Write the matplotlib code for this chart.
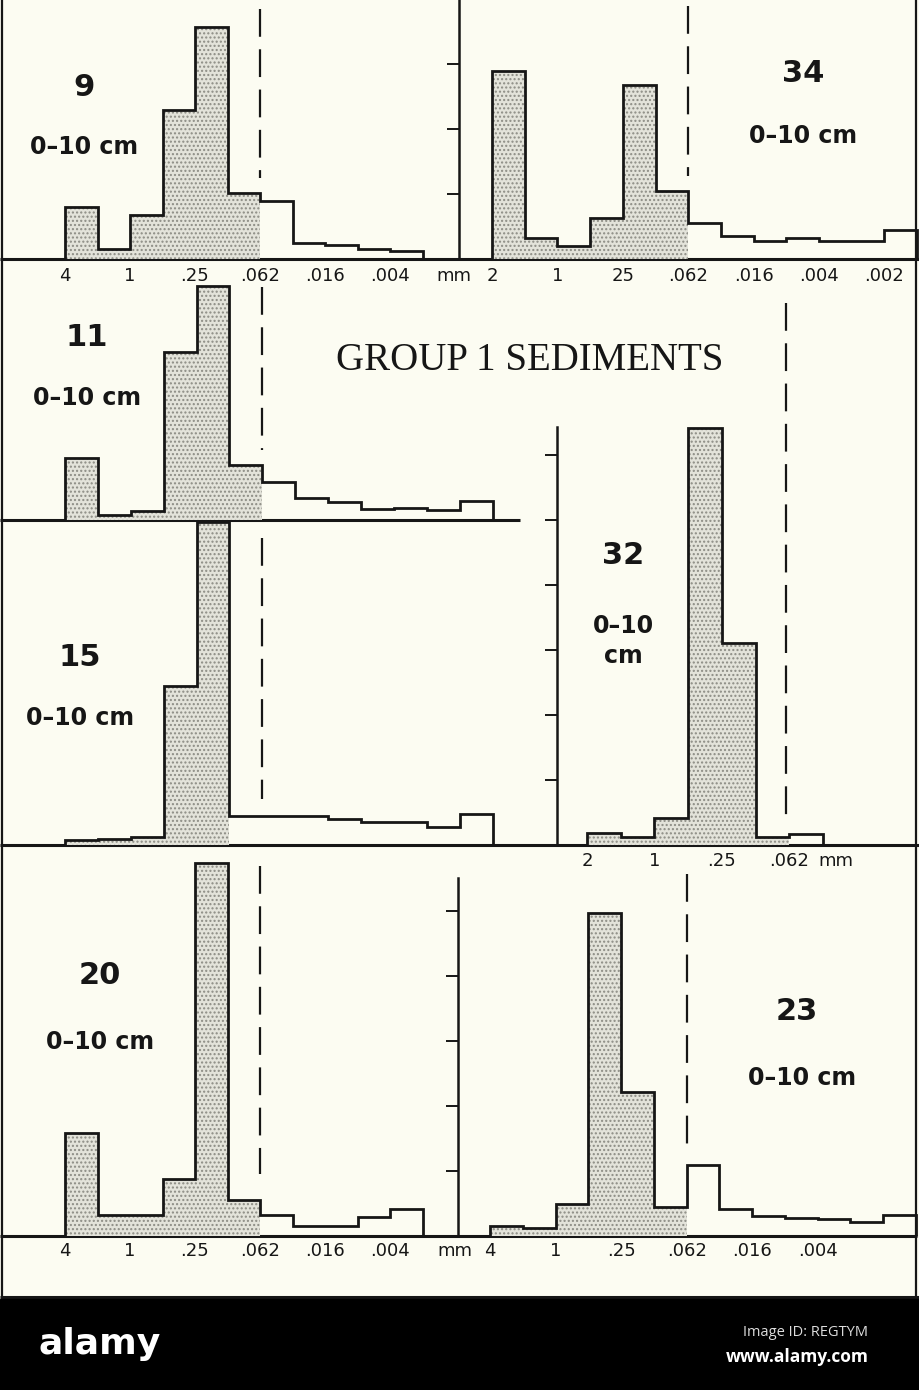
import matplotlib
matplotlib.use('Agg')
import matplotlib.pyplot as plt
import numpy as np
from matplotlib.patches import Rectangle

plt.rcParams['lines.scale_dashes'] = False

# ---------------- data (percent per size class) ----------------
p9_vals = [8.0, 1.5, 6.8, 23.0, 35.7, 10.1, 9.0, 2.4, 2.1, 1.5, 1.2]
p34_vals = [29.0, 3.3, 2.0, 6.3, 26.8, 10.4, 5.5, 3.5, 2.7, 3.2, 2.7, 2.7, 4.4]
p11_vals = [9.5, 0.8, 1.4, 25.8, 36.0, 8.4, 5.9, 3.4, 2.7, 1.7, 1.9, 1.6, 2.9]
p15_vals = [0.7, 0.9, 1.3, 24.5, 49.7, 4.4, 4.4, 4.4, 4.0, 3.6, 3.6, 2.7, 4.8]
p32_vals = [1.9, 1.3, 4.2, 64.2, 31.1, 1.3, 1.7]
p20_vals = [15.9, 3.3, 3.3, 8.8, 57.4, 5.5, 3.2, 1.6, 1.6, 2.9, 4.1]
p23_vals = [1.5, 1.2, 5.0, 49.7, 22.1, 4.5, 11.0, 4.1, 3.1, 2.7, 2.6, 2.2, 3.3]

labels_9 = ['4', '1', '.25', '.062', '.016', '.004', 'mm']
labels_34 = ['2', '1', '25', '.062', '.016', '.004', '.002']
labels_32 = ['2', '1', '.25', '.062', 'mm']
labels_20 = ['4', '1', '.25', '.062', '.016', '.004', 'mm']
labels_23 = ['4', '1', '.25', '.062', '.016', '.004']

stations = ['9', '34', '11', '15', '32', '20', '23']
depth = '0\u201310 cm'
title = 'GROUP 1 SEDIMENTS'

# ---------------- style ----------------
W, H = 919, 1390
BG = '#FCFCF2'
INK = '#161616'
SHADE = '#E3E3DA'
DOTS = '#8C8C84'
SANS = 'DejaVu Sans'
PX10 = 6.5  # pixels per 1 %

fig = plt.figure(figsize=(W / 100, H / 100), dpi=100)
fig.patch.set_facecolor(BG)

bg = fig.add_axes([0, 0, 1, 1])
bg.set_xlim(0, W)
bg.set_ylim(H, 0)
bg.axis('off')
bg.set_zorder(-5)

# frame lines
for (xa, xb, y) in [(0, W, 259), (0, 520, 520), (0, W, 845), (0, 917, 1236), (0, W, 1297)]:
    bg.plot([xa, xb], [y, y], color=INK, lw=2.2, solid_capstyle='butt')
bg.plot([2, 2], [0, 1297], color=INK, lw=1.6)
bg.plot([916, 916], [0, 1297], color=INK, lw=1.6)
bg.add_patch(Rectangle((0, 1299), W, H - 1299, color='black', zorder=3))
bg.text(100, 1344, 'alamy', color='white', fontsize=26, fontweight='bold',
        family='Liberation Sans Narrow', ha='center', va='center', zorder=4)
bg.text(868, 1333, 'Image ID: REGTYM', color='#DDDDDD', fontsize=10.5,
        family='Open Sans', ha='right', va='center', zorder=4)
bg.text(869, 1357, 'www.alamy.com', color='white', fontsize=12.5, fontweight='bold',
        family='Open Sans', ha='right', va='center', zorder=4)


def panel(vals, edge0, binw, box, nshade, dash, tick_pos, tick_lab, spine=False,
          pad=6.0):
    x0, x1, ytop, ybase = box
    ax = fig.add_axes([x0 / W, 1 - ybase / H, (x1 - x0) / W, (ybase - ytop) / H])
    ax.set_xlim((x0 - edge0) / binw, (x1 - edge0) / binw)
    ax.set_ylim(0, (ybase - ytop) / PX10)
    ax.patch.set_visible(False)
    n = len(vals)
    edges = np.arange(n + 1)
    ax.bar(edges[:nshade], vals[:nshade], width=1.0, align='edge', color=SHADE,
           hatch='....', edgecolor=DOTS, linewidth=0, zorder=1)
    ax.stairs(vals, edges, baseline=0, color=INK, lw=2.0, zorder=3, clip_on=False)
    dx, dy0, dy1 = dash
    ax.plot([dx, dx], [dy0, dy1], color=INK, lw=1.6, dashes=(20, 9),
            clip_on=False, zorder=2)
    for s in ['top', 'right', 'bottom']:
        ax.spines[s].set_visible(False)
    if spine:
        ax.spines['left'].set_linewidth(1.8)
        ax.spines['left'].set_color(INK)
        ax.set_yticks(np.arange(10, ax.get_ylim()[1], 10))
        ax.tick_params(axis='y', direction='out', length=9, width=1.4,
                       color=INK, labelleft=False)
    else:
        ax.spines['left'].set_visible(False)
        ax.set_yticks([])
    if tick_pos:
        ax.set_xticks(tick_pos)
        ax.set_xticklabels(tick_lab, fontsize=13, family=SANS, color=INK)
        ax.tick_params(axis='x', length=0, pad=pad)
    else:
        ax.set_xticks([])
    return ax


# top row
panel(p9_vals, 65, 32.5, (2, 459, 0, 259), 6, (6, 38.5, 12.5),
      [0, 2, 4, 6, 8, 10, 11.97], labels_9)
panel(p34_vals, 492, 32.7, (459, 916, 0, 259), 6, (6, 38.9, 12.8),
      [0, 2, 4, 6, 8, 10, 12], labels_34, spine=True)
# middle
panel(p11_vals, 65, 32.9, (2, 520, 262, 520), 6, (6, 35.8, 10.8), [], [])
panel(p15_vals, 65, 32.9, (2, 520, 522, 845), 5, (6, 47.3, 7.1), [], [])
panel(p32_vals, 587, 33.7, (557, 916, 427, 845), 6, (5.9, 83.4, 4.0),
      [0, 2, 4, 6, 7.39], labels_32, spine=True, pad=5)
# bottom
panel(p20_vals, 65, 32.5, (2, 458, 845, 1236), 6, (6, 57.0, 9.6),
      [0, 2, 4, 6, 8, 10, 12.0], labels_20, pad=4)
panel(p23_vals, 490, 32.77, (458, 916, 878, 1236), 6, (6.01, 55.7, 13.9),
      [0, 2, 4, 6, 8, 10], labels_23, spine=True, pad=4)

# station labels
num_kw = dict(fontsize=22, fontweight='bold', family=SANS, color=INK,
              ha='center', va='center')
dep_kw = dict(fontsize=17, fontweight='bold', family=SANS, color=INK,
              ha='center', va='center')
num_pos = [(84, 88), (803, 73), (87, 338), (80, 658), (623, 555), (100, 975), (797, 1012)]
dep_pos = [(84, 147), (803, 136), (87, 398), (80, 718), None, (100, 1042), (802, 1078)]
for s, p, d in zip(stations, num_pos, dep_pos):
    bg.text(p[0], p[1], s, **num_kw)
    if d is not None:
        bg.text(d[0], d[1], depth, **dep_kw)
bg.text(623, 626, depth.split(' ')[0], **dep_kw)
bg.text(623, 656, depth.split(' ')[1], **dep_kw)

bg.text(530, 360, title, fontsize=28, family='Liberation Serif', color=INK,
        ha='center', va='center')

fig.savefig('out.png', dpi=100, facecolor=BG)
